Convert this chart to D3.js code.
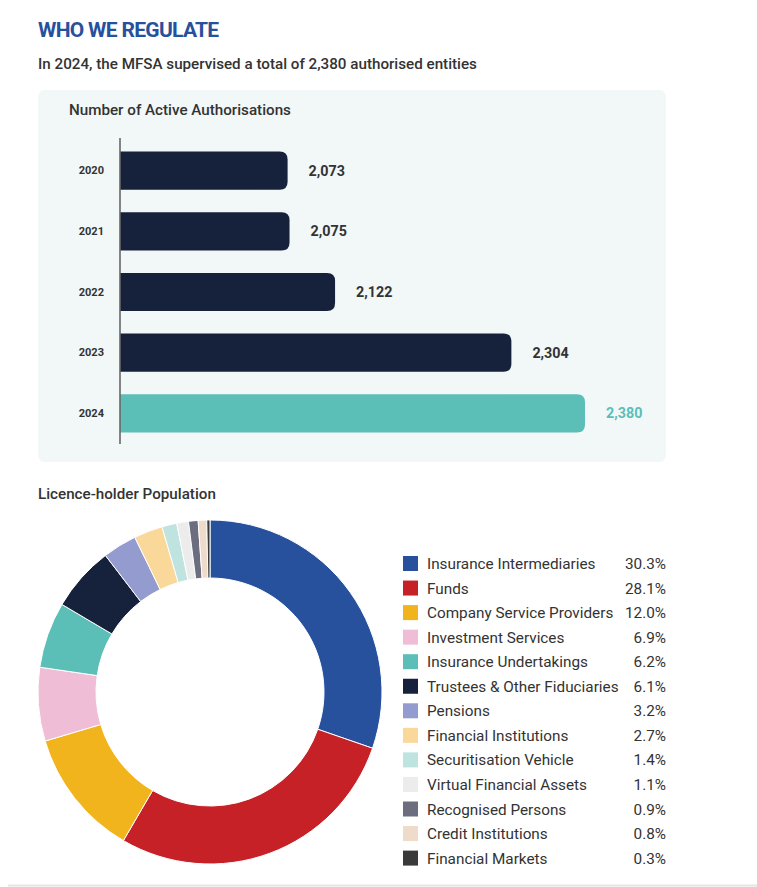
<!DOCTYPE html>
<html>
<head>
<meta charset="utf-8">
<script src="https://cdn.jsdelivr.net/npm/d3@7"></script>
<style>
  body { margin: 0; background: #fff; }
  svg { display: block; font-family: Roboto, "Noto Sans", sans-serif; }
</style>
</head>
<body>
<svg id="chart" width="757" height="887"></svg>
<script>
// bar chart data
const years = ['2020', '2021', '2022', '2023', '2024']
const authorisations = [2073, 2075, 2122, 2304, 2380]

// donut data
const sectors = ['Insurance Intermediaries', 'Funds', 'Company Service Providers', 'Investment Services',
  'Insurance Undertakings', 'Trustees & Other Fiduciaries', 'Pensions', 'Financial Institutions',
  'Securitisation Vehicle', 'Virtual Financial Assets', 'Recognised Persons', 'Credit Institutions',
  'Financial Markets']
const shares = [30.3, 28.1, 12.0, 6.9, 6.2, 6.1, 3.2, 2.7, 1.4, 1.1, 0.9, 0.8, 0.3]
const sectorColours = ['#27509d', '#c62127', '#f1b41d', '#efbdd6', '#5bbfb8', '#16213b', '#939bcf',
  '#fad89a', '#bfe3df', '#ececec', '#6d6d80', '#efdbca', '#3a3a3a']

const svg = d3.select('#chart')

svg.append('text')
  .attr('x', 38).attr('y', 37)
  .attr('font-size', 21).attr('font-weight', 700)
  .attr('letter-spacing', -0.7)
  .attr('fill', '#27509d')
  .text('WHO WE REGULATE')

svg.append('text')
  .attr('x', 38).attr('y', 69)
  .attr('font-size', 15.2).attr('font-weight', 500)
  .attr('fill', '#333')
  .text('In 2024, the MFSA supervised a total of 2,380 authorised entities')

// panel
svg.append('rect')
  .attr('x', 38).attr('y', 90).attr('width', 628).attr('height', 372)
  .attr('rx', 7).attr('fill', '#f2f7f8')

svg.append('text')
  .attr('x', 69).attr('y', 115)
  .attr('font-size', 15.2).attr('font-weight', 500)
  .attr('fill', '#333')
  .text('Number of Active Authorisations')

let x = d3.scaleLinear().domain([1900, 2380]).range([120, 585])
let y = d3.scaleBand().domain(years).range([140, 444]).paddingInner(0.37).paddingOuter(0.19)

let rows = years.map((yr, i) => ({year: yr, value: authorisations[i]}))
let radius = 8

let barPath = (d) => {
  let x0 = x.range()[0], x1 = x(d.value), y0 = y(d.year), h = y.bandwidth()
  return `M${x0},${y0}H${x1 - radius}Q${x1},${y0} ${x1},${y0 + radius}` +
    `V${y0 + h - radius}Q${x1},${y0 + h} ${x1 - radius},${y0 + h}H${x0}Z`
}

svg.append('g').selectAll('path')
  .data(rows).join('path')
  .attr('d', barPath)
  .attr('fill', d => d.year === '2024' ? '#5bbfb8' : '#16213b')

svg.append('g').selectAll('text')
  .data(rows).join('text')
  .attr('x', d => x(d.value) + 21)
  .attr('y', d => y(d.year) + y.bandwidth() / 2 + 5)
  .attr('font-size', 14.3).attr('font-weight', 700)
  .attr('fill', d => d.year === '2024' ? '#5bbfb8' : '#333')
  .text(d => d3.format(',')(d.value))

let yAxis = svg.append('g')
  .attr('transform', 'translate(120,0)')
  .call(d3.axisLeft(y).tickSize(0).tickPadding(16))
yAxis.select('.domain').attr('stroke', '#666').attr('stroke-width', 1.6)
  .attr('d', 'M0,138V444')
yAxis.selectAll('text')
  .attr('font-family', 'Roboto, sans-serif')
  .attr('font-size', 11).attr('font-weight', 700).attr('fill', '#333')

// donut
svg.append('text')
  .attr('x', 38).attr('y', 499)
  .attr('font-size', 15.2).attr('font-weight', 500)
  .attr('fill', '#333')
  .text('Licence-holder Population')

let slices = sectors.map((s, i) => ({name: s, share: shares[i], colour: sectorColours[i]}))
let pie = d3.pie().value(d => d.share).sort(null)
let arc = d3.arc().innerRadius(114).outerRadius(172)

svg.append('g')
  .attr('transform', 'translate(210,692)')
  .selectAll('path')
  .data(pie(slices)).join('path')
  .attr('d', arc)
  .attr('fill', d => d.data.colour)
  .attr('stroke', '#fff').attr('stroke-width', 1)

let legend = svg.append('g').selectAll('g')
  .data(slices).join('g')
  .attr('transform', (d, i) => `translate(403,${556 + i * 24.55})`)

legend.append('rect')
  .attr('width', 15).attr('height', 15)
  .attr('fill', d => d.colour)

legend.append('text')
  .attr('x', 24).attr('y', 13)
  .attr('font-size', 15.3).attr('fill', '#333')
  .text(d => d.name)

legend.append('text')
  .attr('x', 263).attr('y', 13)
  .attr('text-anchor', 'end')
  .attr('font-size', 15.3).attr('fill', '#333')
  .text(d => d.share.toFixed(1) + '%')

svg.append('line')
  .attr('x1', 8).attr('x2', 757).attr('y1', 885.5).attr('y2', 885.5)
  .attr('stroke', '#e4e4e4').attr('stroke-width', 2)
</script>
</body>
</html>
